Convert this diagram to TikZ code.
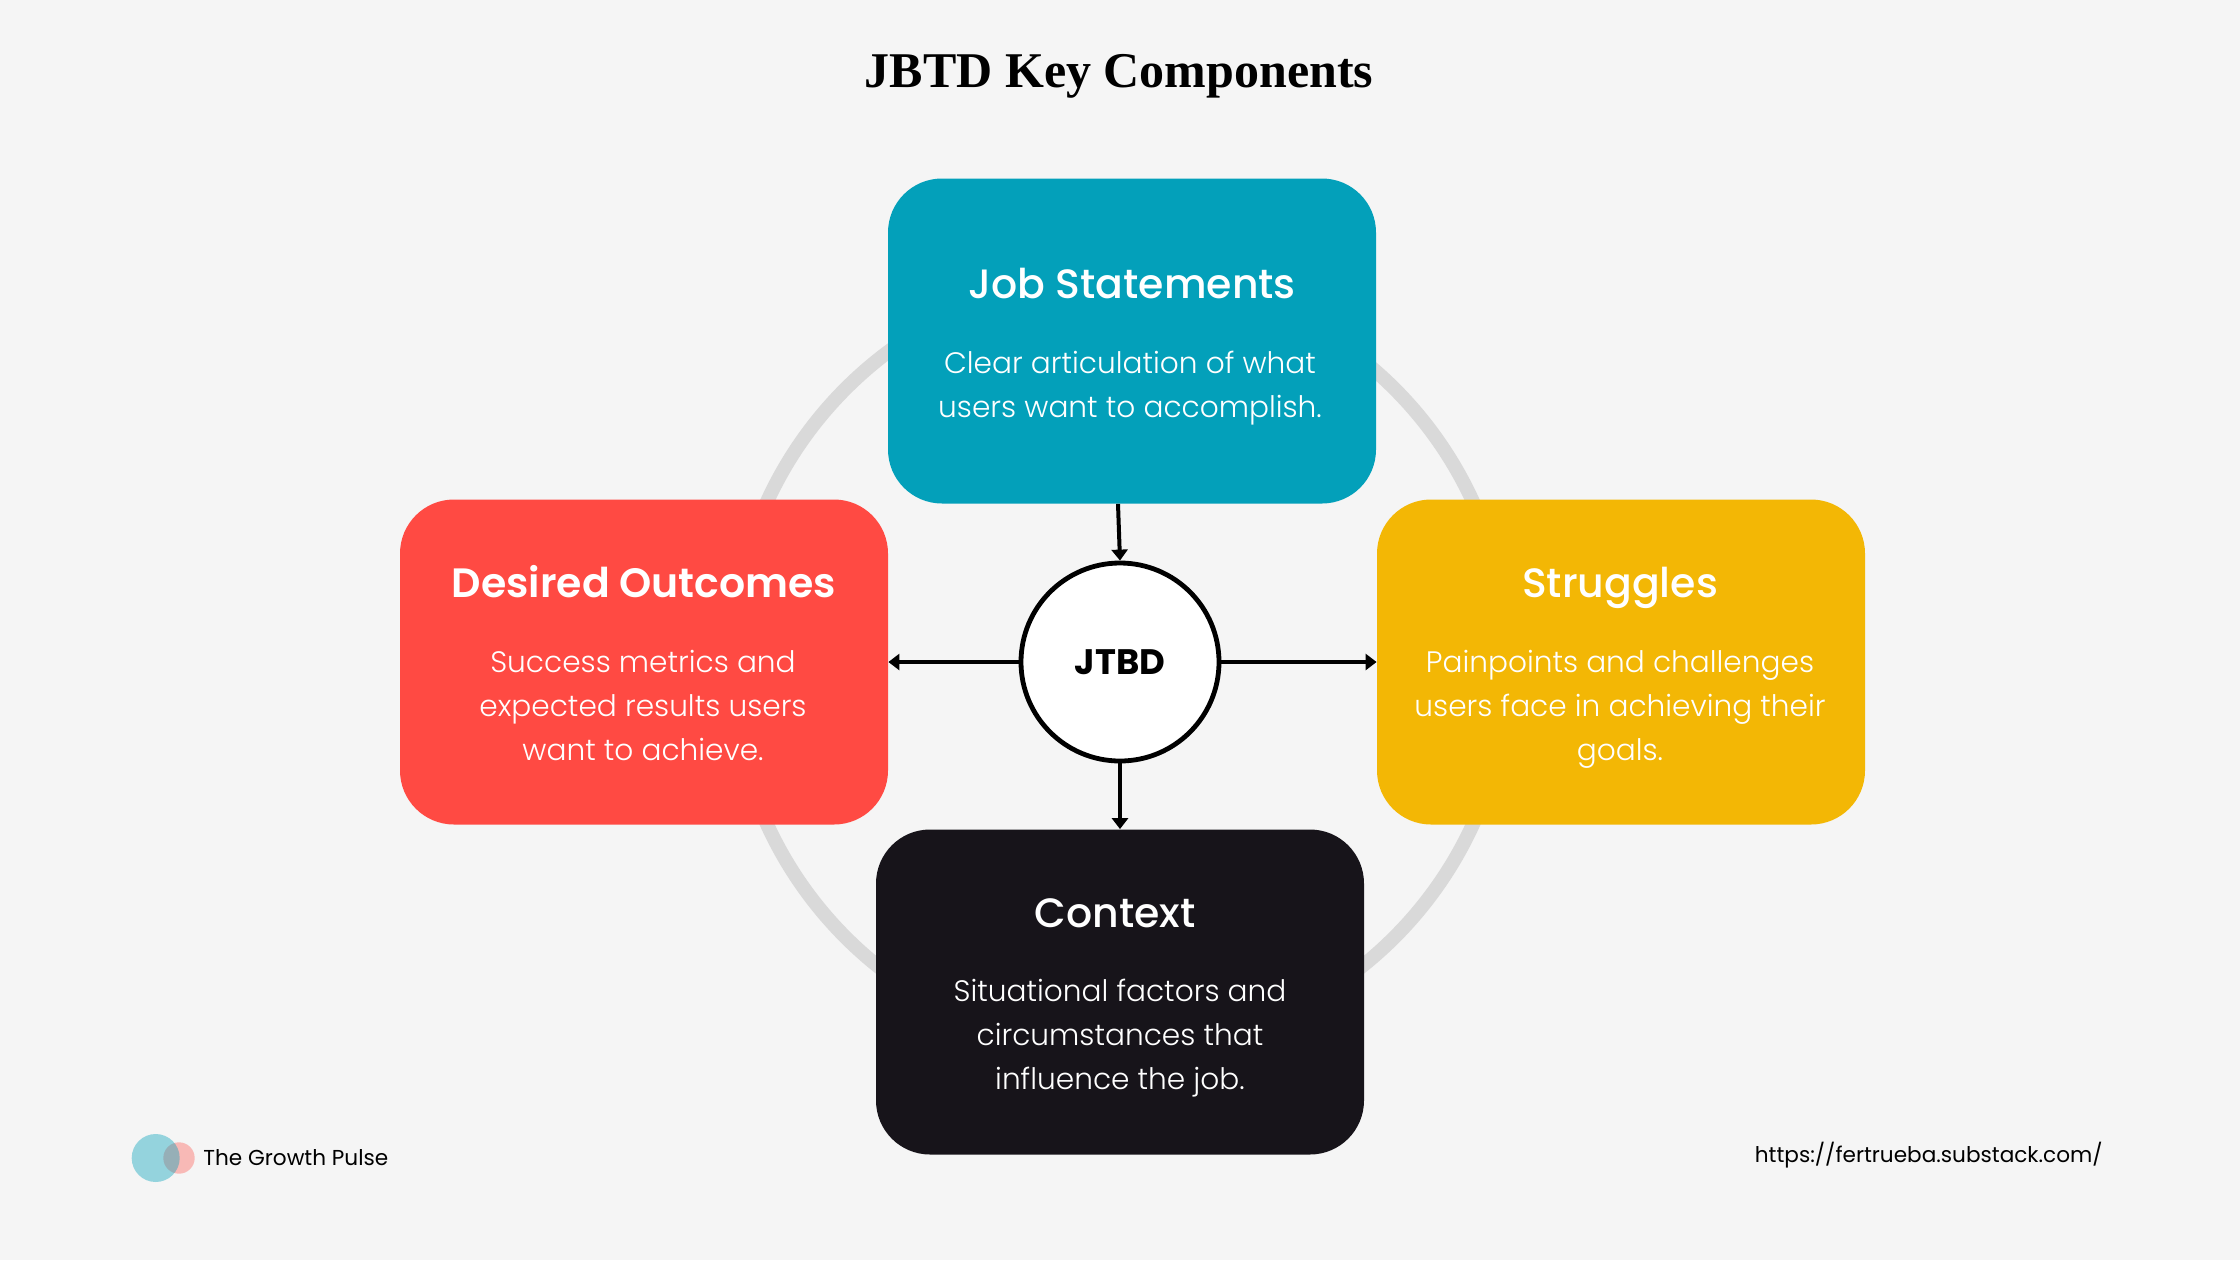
\documentclass[tikz,border=0pt]{standalone}
\usepackage{fontspec}
\setmainfont{Poppins}
\newfontfamily\bodyfont{Poppins Light}
\newfontfamily\headfont{Poppins Medium}
\newfontfamily\strongfont{Poppins SemiBold}
\newfontfamily\titlefont{Liberation Serif}
\usetikzlibrary{arrows.meta, positioning}

\definecolor{pagebg}{HTML}{F5F5F5}
\definecolor{jobteal}{HTML}{03A0BA}
\definecolor{outred}{HTML}{FF4A43}
\definecolor{strugyellow}{HTML}{F3B705}
\definecolor{ctxblack}{HTML}{17141A}
\definecolor{ringgray}{HTML}{D9D9D9}

\begin{document}
\begin{tikzpicture}[
    x=0.5pt,
    y=-0.5pt,
    >={Triangle[width=8pt,length=5.5pt]},
    box/.style={rectangle, rounded corners=27pt, minimum width=244pt, minimum height=162.5pt, inner sep=0pt},
    head/.style={text=white, font=\fontsize{20.5}{25}\headfont, inner sep=0pt, text height=15pt, text depth=5pt},
    body/.style={text=white, font=\fontsize{14.8}{22}\bodyfont, align=center, inner sep=0pt, text depth=5pt},
    link/.style={->, line width=2pt, black},
    foot/.style={font=\fontsize{10.8}{13}\selectfont, inner sep=0pt},
]

    \fill[pagebg] (0,0) rectangle (2240,1260);
    \useasboundingbox (0,0) rectangle (2240,1260);

    \coordinate (mid) at (1120,663);
    \draw[ringgray, line width=7pt] (mid) circle [radius=388];

    \node[box, fill=jobteal]     (job)      at (1132,341) {};
    \node[box, fill=outred]      (outcomes) at (644,662)  {};
    \node[box, fill=strugyellow] (struggles) at (1621,662) {};
    \node[box, fill=ctxblack]    (context)  at (1120,992) {};

    \node[circle, draw=black, fill=white, line width=2.4pt, minimum size=99pt, inner sep=0pt,
          font=\fontsize{17.7}{20}\selectfont\bfseries] (hub) at (1120,662) {JTBD};

    \path
        ([xshift=-7pt]job.south) edge [link] (hub.north)
        (hub.south) edge [link] (context.north)
        (hub.west)  edge [link] (outcomes.east)
        (hub.east)  edge [link] (struggles.west)
    ;

    \node[head] at (1132,288)  {Job Statements};
    \node[body] at (1130,389)  {Clear articulation of what\\users want to accomplish.};
    \node[head, font=\fontsize{20.5}{25}\strongfont] at (644,587) {Desired Outcomes};
    \node[body] at (643,710)   {Success metrics and\\expected results users\\want to achieve.};
    \node[head] at (1620,587)  {Struggles};
    \node[body] at (1620,710)  {Painpoints and challenges\\users face in achieving their\\goals.};
    \node[head] at (1115,917)  {Context};
    \node[body] at (1120,1039) {Situational factors and\\circumstances that\\influence the job.};

    \node[font=\fontsize{25}{29}\titlefont\bfseries, inner sep=0pt] (title) at (1119,76) {JBTD Key Components};

    \fill[outred, opacity=.35] (179,1158) circle [radius=15.7];
    \fill[jobteal, opacity=.4] (155.7,1158) circle [radius=24];
    \node[foot, anchor=west] (brand) at (203,1158) {The Growth Pulse};
    \node[foot, anchor=east] (url) at (2103,1155) {https://fertrueba.substack.com/};
\end{tikzpicture}
\end{document}
